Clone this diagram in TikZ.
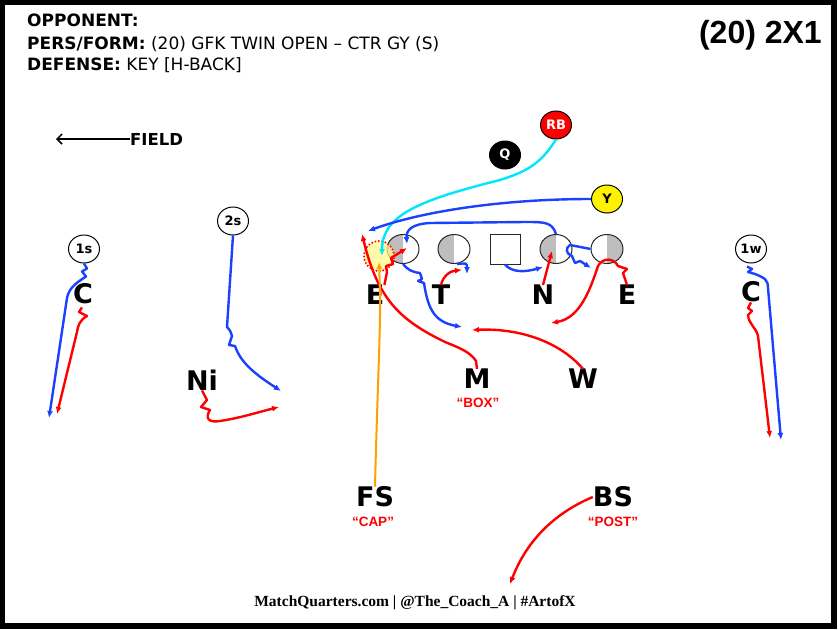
\documentclass[tikz,border=0pt]{standalone}
\usepackage{fontspec}
\setmainfont{DejaVu Sans}
\newfontfamily\arialfont{Liberation Sans}
\newfontfamily\creditfont{Liberation Serif}
\usetikzlibrary{shapes.geometric, arrows.meta, positioning}
\definecolor{routeBlue}{RGB}{25, 65, 255}
\definecolor{routeRed}{RGB}{255, 0, 0}
\definecolor{routeCyan}{RGB}{0, 230, 255}
\definecolor{routeOrange}{RGB}{255, 160, 0}
\definecolor{lineGray}{RGB}{190, 190, 190}
\definecolor{keyYellow}{RGB}{255, 250, 140}

\begin{document}
\begin{tikzpicture}[x=1pt, y=-1pt, >={Latex[length=7pt,width=6pt]},
  off/.style={draw=routeBlue, line width=2.4pt, ->, line join=round},
  def/.style={draw=routeRed, line width=2.4pt, ->, line join=round},
  dl/.style={font=\fontsize{27}{30}\selectfont\bfseries, inner sep=0pt},
  call/.style={font=\arialfont\fontsize{13.5}{15}\selectfont\bfseries, text=routeRed, inner sep=0pt},
  hdr/.style={anchor=base west, inner sep=0pt, font=\fontsize{17}{20}\selectfont},
  rec/.style={ellipse, draw=black, line width=1pt, fill=white, minimum width=31pt,
              minimum height=28pt, inner sep=0pt, font=\fontsize{13}{15}\selectfont\bfseries},
  olbase/.style={ellipse, draw=black!85, line width=1pt, fill=white, minimum width=32pt,
                 minimum height=29pt, inner sep=0pt},
  olL/.style={olbase, path picture={\fill[lineGray] (path picture bounding box.south west)
              rectangle (path picture bounding box.north);}},
  olR/.style={olbase, path picture={\fill[lineGray] (path picture bounding box.south)
              rectangle (path picture bounding box.north east);}}]

  \useasboundingbox (0,0) rectangle (840,629);
  \fill[black] (0,0) rectangle (837,629);
  \fill[white] (5,5) rectangle (831,623);

  % header
  \node[hdr] (opp) at (27,27) {\textbf{OPPONENT:}};
  \node[hdr] (pers) at (27,49) {\textbf{PERS/FORM:} (20) GFK TWIN OPEN – CTR GY (S)};
  \node[hdr] (dfn) at (27,70) {\textbf{DEFENSE:} KEY [H-BACK]};
  \node[anchor=base east, inner sep=0pt, font=\arialfont\fontsize{32}{34}\selectfont\bfseries]
    (ttl) at (822,43) {(20) 2X1};

  \node[anchor=west, inner sep=0pt, font=\fontsize{16.5}{19}\selectfont\bfseries] (field) at (130,139) {FIELD};
  \coordinate (fieldtip) at (56,139);
  \draw[-{Straight Barb[length=5pt,width=10pt]}, line width=1.5pt] (field.west) -- (fieldtip);

  % offense
  \node[rec] (s1) at (84,249) {1s};
  \node[rec] (s2) at (233,221) {2s};
  \node[rec] (w1) at (751,249) {1w};
  \node[rec, fill=routeRed, text=white] (rb) at (556,125) {RB};
  \node[rec, fill=black, text=white] (qb) at (505,155) {Q};
  \node[rec, fill=yellow] (yb) at (607,199) {Y};
  \foreach \n/\x/\s in {1/403/olL, 2/454/olL, 4/556/olL, 5/607/olR}
    \node[\s] (ol\n) at (\x,249) {};
  \node[draw=black!85, line width=1pt, fill=white, minimum size=30pt, inner sep=0pt] (ctr) at (505,249) {};
  \node[circle, fill=keyYellow, fill opacity=0.75, draw=routeRed, line width=2.2pt,
        dash pattern=on 0pt off 3.4pt, line cap=round, minimum size=30pt] (key) at (379,256) {};

  % defense
  \node[dl] (cL) at (83,294) {C};
  \node[dl] (ni) at (202,380) {Ni};
  \node[dl] (eL) at (375,295) {E};
  \node[dl] (dt) at (441,295) {T};
  \node[dl] (dn) at (543,295) {N};
  \node[dl] (eR) at (627,295) {E};
  \node[dl] (mk) at (477,379) {M};
  \node[dl] (wk) at (583,379) {W};
  \node[dl] (cR) at (751,292) {C};
  \node[dl] (fs) at (375,497) {FS};
  \node[dl] (bs) at (613,497) {BS};
  \node[call] (box) at (478,403) {“BOX”};
  \node[call] (cap) at (373,522) {“CAP”};
  \node[call] (post) at (613,522) {“POST”};

  % route ends
  \coordinate (s1end) at (49,418);
  \coordinate (cLend) at (57,414);
  \coordinate (s2end) at (281,391);
  \coordinate (niend) at (279,407);
  \coordinate (rbend) at (382,256);
  \coordinate (yend) at (368,231);
  \coordinate (ol1end) at (407,244);
  \coordinate (ol1dn) at (462,327);
  \coordinate (ol2end) at (467,274);
  \coordinate (ctrend) at (543,267);
  \coordinate (ol5end) at (591,268);
  \coordinate (mkend) at (362,234);
  \coordinate (eLend) at (407,248);
  \coordinate (fsend) at (379,262);
  \coordinate (dtend) at (462,270);
  \coordinate (dnend) at (552,251);
  \coordinate (eRend) at (551,323);
  \coordinate (wkend) at (472,330);
  \coordinate (bsend) at (510,584);
  \coordinate (cRend) at (770,438);
  \coordinate (w1end) at (781,440);

  % offense routes
  \draw[off] (s1.south) -- ++(3,5) -- ++(-5,3) -- ++(4,5) .. controls (76,283) and (69,288) .. (67,298) -- (s1end);
  \draw[off] (s2.south) -- (227,327) .. controls (230,330) .. (232,336) -- (229,345) -- (235,346)
    .. controls (241,364) and (258,376) .. (s2end);
  \draw[off, draw=routeCyan] (rb.south) .. controls (540,165) and (525,172) .. (500,180)
    .. controls (420,200) and (382,215) .. (rbend);
  \draw[off] (yb.west) .. controls (500,199) and (420,212) .. (yend);
  \draw[off] (ol4.north) .. controls (552,222) and (545,222) .. (525,222) -- (430,223)
    .. controls (412,224) and (406,230) .. (ol1end);
  \draw[off] (ol1.south) .. controls (408,270) and (412,272) .. (420,273) -- (422,279) -- (418,281) -- (424,283)
    .. controls (428,310) and (435,322) .. (ol1dn);
  \draw[off] ([shift={(3,0)}]ol2.south) .. controls (467,263) .. (ol2end);
  \draw[off] (ctr.south) .. controls (512,273) and (526,272) .. (ctrend);
  \draw[off] (ol5.west) -- (570,245) .. controls (565,248) and (566,254) .. (572,256) -- (575,263) -- (580,261) -- (ol5end);
  \draw[off] ([shift={(-4,3)}]w1.south) -- (752,269) -- (748,272) -- (755,274)
    .. controls (765,278) and (768,280) .. (768,288) -- (w1end);

  % defense routes
  \draw[def] ([shift={(-1,3)}]cL.south) -- (79,312) -- (87,316) .. controls (80,320) and (78,325) .. (77,332) -- (cLend);
  \draw[def] (ni.south) -- (207,400) -- (201,407) -- (210,410) .. controls (205,418) and (208,423) .. (220,421)
    .. controls (240,418) and (255,413) .. (niend);
  \draw[def] (mk.north) -- ++(-1,-8) .. controls (470,352) and (460,348) .. (445,342)
    .. controls (400,320) and (378,300) .. (mkend);
  \draw[def] (eL.north east) -- (387,272) -- (386,266) -- (393,264) -- (391,258) -- (eLend);
  \draw[off, draw=routeOrange, line width=2pt] (fs.north) .. controls (377,400) and (381,320) .. (380,290) -- (fsend);
  \draw[def] (dt.north) .. controls (443,276) and (450,271) .. (dtend);
  \draw[def] (dn.north) -- (dnend);
  \draw[def] (eR.north) -- (623,273) -- (627,269) -- (618,266) .. controls (614,258) and (603,257) .. (598,266)
    .. controls (590,290) and (580,318) .. (eRend);
  \draw[def] (wk.north) .. controls (560,342) and (520,328) .. (wkend);
  \draw[def] (bs.west) .. controls (550,515) and (525,545) .. (bsend);
  \draw[def] (cR.south) -- (748,308) -- (752,311) -- (748,315) .. controls (749,325) and (756,327) .. (758,336) -- (cRend);

  \node[font=\creditfont\fontsize{15.5}{17}\selectfont\bfseries, inner sep=0pt] (credit) at (415,603)
    {MatchQuarters.com | @The\_Coach\_A | \#ArtofX};
\end{tikzpicture}
\end{document}
